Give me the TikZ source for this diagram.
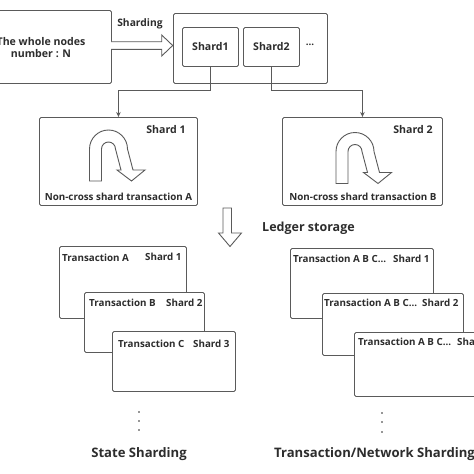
\documentclass[tikz,border=0pt]{standalone}
\usepackage{fontspec}
\setmainfont{Open Sans}
\usetikzlibrary{arrows.meta, positioning, calc}
\definecolor{linegray}{RGB}{90,90,90}
\definecolor{textgray}{RGB}{45,45,45}
\newcommand\fsz[1]{\fontsize{#1}{#1}\selectfont}

\begin{document}
\begin{tikzpicture}[x=1pt, y=-1pt, line join=miter,
  box/.style={draw=linegray, line width=0.9pt, rounded corners=1.5pt, fill=white, inner sep=0pt, anchor=north west},
  lbl/.style={text=textgray, font=\bfseries\fsz{9.8}, inner sep=0pt},
  conn/.style={draw=linegray, line width=0.9pt, -{Stealth[length=5pt, width=4.5pt]}},
  hollow/.style={draw=linegray, line width=0.9pt, fill=white}]
\useasboundingbox (0,0) rectangle (474,474);

  % top row
  \node[box, minimum width=119pt, minimum height=73pt] (whole) at (-8,10) {};
  \node[lbl, font=\bfseries\fontsize{10.6}{12.5}\selectfont, align=center] (wholetx) at (41,47.5) {The whole nodes\\number : N};
  \draw[hollow] (111,41.7) -- (161.7,41.7) -- (161.7,35) -- (172.7,45.5) -- (161.7,56) -- (161.7,49.3) -- (111,49.3);
  \node[lbl, font=\bfseries\fsz{10.3}] (shardlbl) at (140,24) {Sharding};

  \node[box, minimum width=154pt, minimum height=70pt] (pool) at (173,13) {};
  \node[box, minimum width=56pt, minimum height=39pt, text=textgray, font=\bfseries\fsz{10.6}] (sh1) at (182,27) {Shard1};
  \node[box, minimum width=56pt, minimum height=39pt, text=textgray, font=\bfseries\fsz{10.6}] (sh2) at (243,27) {Shard2};
  \node[lbl, anchor=base] (more) at (310,45) {...};

  % shard boxes
  \node[box, minimum width=158pt, minimum height=88pt] (bx1) at (39,117) {};
  \node[box, minimum width=160pt, minimum height=88pt] (bx2) at (282,117) {};
  \draw[conn] (sh1.south) -- ++(0,24) -| (bx1.north);
  \draw[conn] (sh2.south) -- ++(0,24) -| (bx2.north);
  \node[lbl, font=\bfseries\fsz{10.6}] (bx1id) at (166,130) {Shard 1};
  \node[lbl] (bx1tx) at (118.5,197) {Non-cross shard transaction A};
  \node[lbl, font=\bfseries\fsz{10.6}] (bx2id) at (413,130) {Shard 2};
  \node[lbl] (bx2tx) at (363,197) {Non-cross shard transaction B};

  \foreach \dx/\dy in {0/0, 246.5/2.5} {
    \begin{scope}[shift={(\dx,\dy)}]
      \draw[hollow] (89.5,181) -- (89.5,149) arc[start angle=180, end angle=360, radius=19]
        -- (133,170) -- (145,170) -- (131.5,181) -- (117,170) -- (121,170) -- (115.5,149)
        arc[start angle=0, end angle=-180, radius=7] -- (101.5,181) -- cycle;
    \end{scope}
  }

  % ledger
  \draw[hollow] (223,208) -- (231.5,208) -- (231.5,233) -- (241.5,233) -- (230,246.5) -- (218.5,233) -- (223,233) -- cycle;
  \node[lbl, font=\bfseries\fsz{12.5}, anchor=west] (ledger) at (262,228) {Ledger storage};

  % state sharding
  \node[box, minimum width=127pt, minimum height=72pt] (sa) at (59,246) {};
  \node[lbl, anchor=west] (satx) at (62,258) {Transaction A};
  \node[lbl, anchor=west] (said) at (145,257) {Shard 1};
  \node[box, minimum width=120pt, minimum height=60pt] (sb) at (84,292) {};
  \node[lbl, anchor=west] (sbtx) at (89,303) {Transaction B};
  \node[lbl, anchor=west] (sbid) at (166,303) {Shard 2};
  \node[box, minimum width=123pt, minimum height=60pt] (sc) at (112,331) {};
  \node[lbl, anchor=west] (sctx) at (118,344) {Transaction C};
  \node[lbl, anchor=west] (scid) at (193,344) {Shard 3};
  \foreach \y in {412,421,430} \fill[textgray] (139,\y) circle (0.8pt);
  \node[lbl, font=\bfseries\fsz{13.1}] (statett) at (139,454) {State Sharding};

  % transaction/network sharding
  \node[box, minimum width=143pt, minimum height=70pt] (ta) at (290,248) {};
  \node[lbl, anchor=west] (tatx) at (293,259) {Transaction A B C...};
  \node[lbl, anchor=west] (taid) at (393,259) {Shard 1};
  \node[box, minimum width=141pt, minimum height=62pt] (tb) at (322,293) {};
  \node[lbl, anchor=west] (tbtx) at (324,303) {Transaction A B C...};
  \node[lbl, anchor=west] (tbid) at (422,303) {Shard 2};
  \node[box, minimum width=140pt, minimum height=64pt] (tc) at (354,332) {};
  \node[lbl, anchor=west] (tctx) at (358,342) {Transaction A B C...};
  \node[lbl, anchor=west] (tcid) at (457,342) {Shard 3};
  \foreach \y in {413,422,432} \fill[textgray] (382,\y) circle (0.8pt);
  \node[lbl, font=\bfseries\fsz{13.1}, anchor=west] (nettt) at (274,454) {Transaction/Network Sharding};

\end{tikzpicture}
\end{document}
